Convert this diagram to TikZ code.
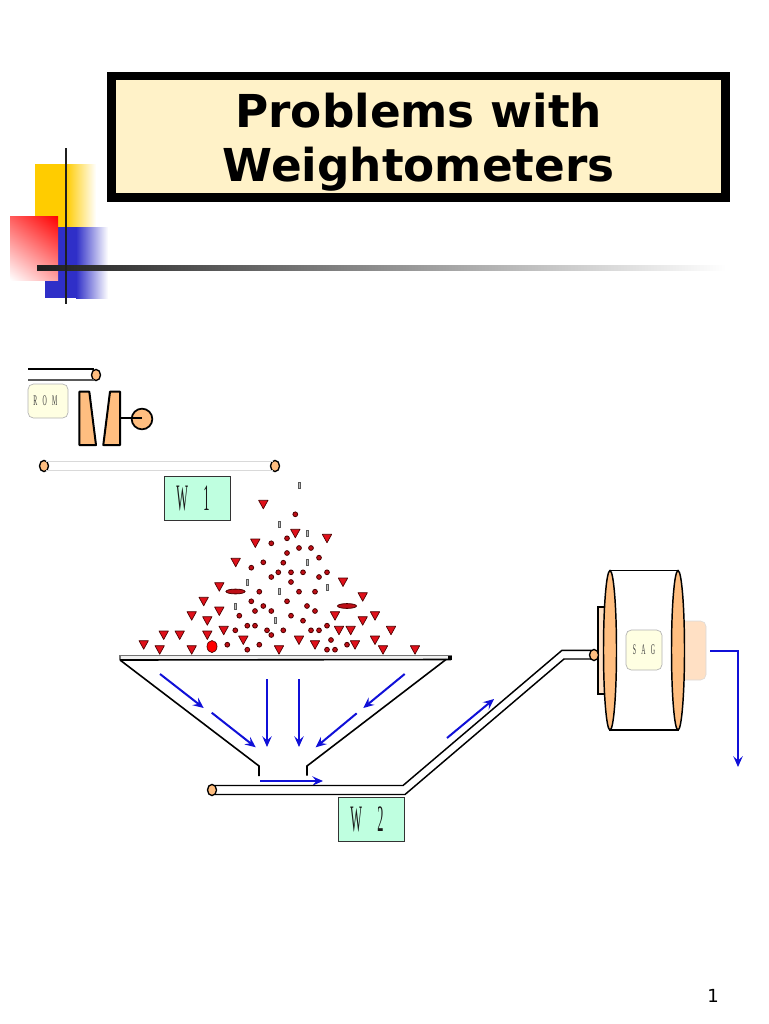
\documentclass[tikz,border=0pt]{standalone}
\usepackage{fontspec}
\setmainfont{DejaVu Sans}
\newfontfamily\serifnarrow{Liberation Serif}
\usetikzlibrary{arrows.meta,shapes.geometric,calc}
\definecolor{frameFill}{HTML}{FFF2C8}
\definecolor{gold}{HTML}{FFCC00}
\definecolor{royal}{HTML}{2F2FC8}
\definecolor{tan}{HTML}{FFBE80}
\definecolor{pale}{HTML}{FFE0C4}
\definecolor{mint}{HTML}{BFFFE0}
\definecolor{cream}{HTML}{FFFFE2}
\definecolor{rockred}{HTML}{E0101A}
\definecolor{flow}{HTML}{1010D8}
\tikzset{
  x=0.75pt,y=-0.75pt,
  pulley/.style={ellipse,draw=black,fill=tan,line width=1pt,minimum width=6.8pt,minimum height=8.4pt,inner sep=0pt},
  crush/.style={draw=black,fill=tan,line width=1.5pt,line join=round},
  beltdark/.style={draw=black,line width=1.1pt},
  beltgrey/.style={draw=black!15,line width=1pt},
  flowline/.style={draw=flow,line width=1.5pt,-{Stealth[length=8pt,width=7pt,inset=3pt]}},
  wbox/.style={draw=black!80,fill=mint,line width=.7pt,minimum width=49.5pt,minimum height=33pt,inner sep=0pt,font=\serifnarrow\fontsize{28}{28}\selectfont,text=black!90},
  tagbox/.style={draw=black!30,fill=cream,line width=.5pt,rounded corners=4pt,inner sep=0pt,font=\serifnarrow\fontsize{11}{11}\selectfont,text=black!75},
  tri/.style={fill=rockred,draw=black!70!red,line width=.5pt,line join=round},
  dot/.style={fill=rockred!85!black,draw=black!70!red,line width=.6pt},
  chip/.style={fill=black!25,draw=black!65,line width=.4pt},
}
\begin{document}
\begin{tikzpicture}
\useasboundingbox (0,0) rectangle (768,1024);
% logo blocks
\fill[gold] (35,164) rectangle (66,227);
\shade[left color=gold,right color=white] (66,164) rectangle (96,227);
\fill[royal] (45,227) rectangle (76,298);
\shade[left color=royal,right color=white] (76,227) rectangle (108,298);
\begin{scope}
  \clip (10,216) rectangle (58,280);
  \shade[shading=axis,bottom color=white,top color=red,shading angle=-37] (-6,208) rectangle (74,288);
\end{scope}
\shade[left color=black!88,right color=white] (37,265.5) rectangle (726,270.5);
\draw[black!88,line width=1.5pt] (65.5,148) -- (65.5,304);
% title
\node[draw=black,fill=frameFill,line width=6.4pt,minimum width=460.5pt,minimum height=91pt,inner sep=0pt,align=center,
  font=\bfseries\fontsize{34}{40.5}\selectfont] (title) at (418.7,136.7) {\rule{0pt}{34.5pt}Problems with\\Weightometers};
% ROM conveyor and crusher
\node[pulley] (romP) at (96,375) {};
\coordinate (romA) at (28,369);
\coordinate (romB) at (28,380);
\draw[beltdark] (romA) -- ($(romP)+(-2,-6)$);
\draw[draw=black!65,line width=1.1pt] (romB) -- ($(romP)+(-2,5)$);
\node[tagbox,minimum width=30pt,minimum height=25.5pt] (rom) at (48,401) {\scalebox{.4}[1]{R\hspace{10pt}O\hspace{10pt}M\hspace{10pt}}};
\draw[crush] (79.3,391.7) -- (89.3,391.7) -- (96,445) -- (79.3,445) -- cycle;
\draw[crush] (110,391.7) -- (120,391.7) -- (120,445) -- (103.3,445) -- cycle;
\node[circle,draw=black,fill=tan,line width=1.3pt,minimum size=15.5pt,inner sep=0pt] (motor) at (142,419) {};
\coordinate (shaft) at (120,417.7);
\draw[black,line width=1.6pt] (shaft) -- (shaft -| motor.center);
% W1 conveyor
\node[pulley] (w1a) at (44,466) {};
\node[pulley] (w1b) at (275,466) {};
\draw[beltgrey] ($(w1a)+(2,-4.7)$) -- ($(w1b)+(-2,-4.7)$);
\draw[beltgrey] ($(w1a)+(2,4.7)$) -- ($(w1b)+(-2,4.7)$);
\node[wbox] (w1) at (197,498) {\scalebox{.33}[1]{W\hspace{35pt}1\hspace{18pt}}};
% pile
\foreach \x/\y in {263.3/504.3,255.3/543,235.7/562.3,219.3/586.7,203.7/601.3,191.7/615.7,219.3/611,207.3/620.7,163.7/635,179.7/635,207.3/635,223.7/630.3,243.3/640,143.7/644.7,159.7/649.7,191.7/649.7,279/649.7,295.3/533.3,327/538.3,343/582,362.7/596.7,335/615.7,375/615.7,362.7/620.7,339/630.3,350.7/630.3,391/630.3,299/640,375/640,315/644.7,355/644.7,383/649.7,415/649.7}
  \draw[tri] (\x-4.7,\y-4) -- (\x+4.7,\y-4) -- (\x,\y+4.5) -- cycle;
\foreach \x/\y in {271.3/543.3,263.3/562.3,251.3/567.7,278.3/572.3,271.3/577,259.3/591.7,251.3/601.3,263.3/606,255/611,271.3/611,239.3/615.7,247.3/625.7,255/625.7,235.3/630.3,267/630.3,271.3/635,227.3/644.7,259.3/644.7,247.3/649.7,295.3/514.3,287/538.3,299/548,311/548,287/553,319/557.7,283.3/562.7,291/572.3,303/572.3,327/572.3,319/577,291/582,299/591.7,315/591.7,287/601.3,307/606,315/611,291/615.7,303/620.7,327/625.7,283.3/630.3,311/630.3,319/630.3,331/640,347/644.7,327/649.7,335/649.7}
  \draw[dot] (\x,\y) circle (2.4);
\foreach \x/\y in {247.3/582.3,235.3/606.3,279/524.3,279/591.7,275.3/620.7,299.3/485.7,307/533.7,307/562.7,327/587}
  \draw[chip] (\x-.8,\y-3) rectangle (\x+.8,\y+3);
\draw[dot] (235.5,591.5) ellipse [x radius=9.5,y radius=2.4];
\draw[dot] (347,606) ellipse [x radius=9.5,y radius=2.4];
\draw[fill=red,draw=black!70!red,line width=.5pt] (212,646.5) ellipse [x radius=5,y radius=6];
% hopper
\draw[fill=black!6,draw=black!55,line width=1pt] (120,655.5) rectangle (451,659.5);
\coordinate (hopL) at (120,660);
\coordinate (hopR) at (451,659.5);
\coordinate (neckL) at (259,766);
\coordinate (neckR) at (307,766);
\coordinate (neckLe) at (259,776);
\coordinate (neckRe) at (307,775.5);
\coordinate (hopRs) at (446,659.5);
\draw[black,line width=1.2pt] (hopL) -- (hopR);
\draw[black,line width=1.2pt,line join=miter] (hopL) -- (neckL) -- (neckLe);
\draw[black,line width=1.2pt,line join=miter] (hopRs) -- (neckR) -- (neckRe);
\fill[black] (448,656) rectangle (451.5,660);
% hopper flow
\coordinate (f1a) at (160,674); \coordinate (f1b) at (203.7,708);
\coordinate (f2a) at (211.7,712.7); \coordinate (f2b) at (255.7,747.3);
\coordinate (f3a) at (267,679.3); \coordinate (f3b) at (267,747);
\coordinate (f4a) at (299,679.3); \coordinate (f4b) at (299,747);
\coordinate (f5a) at (404.7,674); \coordinate (f5b) at (363.3,708);
\coordinate (f6a) at (356.7,713.3); \coordinate (f6b) at (315.7,747.3);
\coordinate (f7a) at (260,781); \coordinate (f7b) at (323,781);
\coordinate (f8a) at (447,738); \coordinate (f8b) at (494,699);
\foreach \a/\b in {f1a/f1b,f2a/f2b,f3a/f3b,f4a/f4b,f5a/f5b,f6a/f6b,f7a/f7b,f8a/f8b}
  \draw[flowline] (\a) -- (\b);
% SAG mill back plate
\draw[black,line width=1.1pt,fill=pale] (598,607) rectangle (604.5,694);
% W2 conveyor
\node[pulley] (w2a) at (212,790) {};
\node[pulley] (w2b) at (594,655) {};
\draw[beltdark] ($(w2a)+(2.5,-4.5)$) -- (403,785.5) -- (562,650.3) -- ($(w2b)+(-2.5,-4.7)$);
\draw[beltdark] ($(w2a)+(2.5,4.5)$) -- (405,794.5) -- (564,659) -- ($(w2b)+(-2.5,4)$);
\node[wbox] (w2) at (371,819.3) {\scalebox{.33}[1]{W\hspace{35pt}2\hspace{18pt}}};
% SAG mill
\fill[pale,draw=black!15,line width=.4pt,rounded corners=4pt] (672,621) rectangle (706,680);
\draw[black,line width=1.1pt,fill=white] (610,570.5) rectangle (678,730);
\draw[black,line width=1.1pt,fill=tan] (610,650.3) ellipse [x radius=6.5,y radius=79.7];
\draw[black,line width=1.1pt,fill=tan] (678,650.3) ellipse [x radius=6.5,y radius=79.7];
\node[tagbox,minimum width=27pt,minimum height=30pt] (sag) at (644,650) {\scalebox{.4}[1]{S\hspace{10pt}A\hspace{10pt}G}};
\coordinate (outA) at (710,650.5);
\coordinate (outB) at (738,767);
\draw[flowline,line join=miter] (outA) -| (outB);
% page number
\node[inner sep=0pt,font=\fontsize{13.5}{13.5}\selectfont] (page) at (713,996) {1};
\end{tikzpicture}
\end{document}
